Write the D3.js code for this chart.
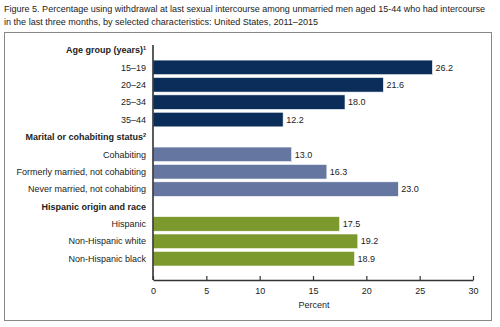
<!DOCTYPE html>
<html>
<head>
<meta charset="utf-8">
<script src="https://cdn.jsdelivr.net/npm/d3@7"></script>
<style>
  body { margin: 0; background: #fff; }
  svg { font-family: "Liberation Sans", Arial, Helvetica, sans-serif; }
</style>
</head>
<body>
<svg id="chart" width="500" height="327"></svg>
<script>
// rows from top to bottom; headers have no value
var rowLabels = ['Age group (years)', '15–19', '20–24', '25–34', '35–44',
  'Marital or cohabiting status', 'Cohabiting', 'Formerly married, not cohabiting', 'Never married, not cohabiting',
  'Hispanic origin and race', 'Hispanic', 'Non-Hispanic white', 'Non-Hispanic black'];
var rowGroups = ['age', 'age', 'age', 'age', 'age',
  'marital', 'marital', 'marital', 'marital',
  'race', 'race', 'race', 'race'];
var isHeader = [true, false, false, false, false, true, false, false, false, true, false, false, false];
var headerNotes = ['1', '', '', '', '', '2', '', '', '', '', '', '', ''];
var percents = [null, 26.2, 21.6, 18.0, 12.2, null, 13.0, 16.3, 23.0, null, 17.5, 19.2, 18.9];
var xTicks = [0, 5, 10, 15, 20, 25, 30];
var groupColors = { age: '#0b2d5a', marital: '#6577a0', race: '#7c992e' };

var rows = rowLabels.map((d, i) => ({
  label: d, group: rowGroups[i], header: isHeader[i], note: headerNotes[i], value: percents[i]
}));

var svg = d3.select('#chart');
var fs = 9;

// title, two lines across the frame width
var title = svg.append('text').attr('x', 4).attr('y', 12).attr('font-size', 9).attr('fill', '#222');
title.append('tspan').attr('x', 4).attr('textLength', 481).attr('lengthAdjust', 'spacingAndGlyphs')
  .text('Figure 5. Percentage using withdrawal at last sexual intercourse among unmarried men aged 15-44 who had intercourse');
title.append('tspan').attr('x', 4).attr('dy', 13).attr('textLength', 314).attr('lengthAdjust', 'spacingAndGlyphs')
  .text('in the last three months, by selected characteristics: United States, 2011–2015');

// frame
svg.append('rect').attr('x', 4.5).attr('y', 32.5).attr('width', 487).attr('height', 288)
  .attr('fill', 'none').attr('stroke', '#888').attr('stroke-width', 1);

var x = d3.scaleLinear().domain([0, 30]).range([153, 473]);
var y = d3.scaleBand().domain(d3.range(rows.length)).range([41.3, 267.4]).paddingInner(0.16).paddingOuter(0.08);
var axisY = 280;

// bars
svg.selectAll('rect.bar')
  .data(rows.filter(d => !d.header)).enter().append('rect')
  .attr('class', 'bar')
  .attr('x', x(0))
  .attr('y', d => y(rows.indexOf(d)))
  .attr('width', d => x(d.value) - x(0))
  .attr('height', y.bandwidth())
  .attr('fill', d => groupColors[d.group])
  .attr('stroke', '#fff').attr('stroke-width', 0.6);

// value labels
svg.selectAll('text.val')
  .data(rows.filter(d => !d.header)).enter().append('text')
  .attr('class', 'val')
  .attr('x', d => x(d.value) + 3)
  .attr('y', d => y(rows.indexOf(d)) + y.bandwidth() / 2)
  .attr('dy', '0.35em')
  .attr('font-size', fs).attr('fill', '#222')
  .text(d => d.value.toFixed(1));

// row labels, headers in bold with footnote markers
var labels = svg.selectAll('text.row')
  .data(rows).enter().append('text')
  .attr('class', 'row')
  .attr('x', 146)
  .attr('y', (d, i) => y(i) + y.bandwidth() / 2)
  .attr('dy', '0.35em')
  .attr('text-anchor', 'end')
  .attr('font-size', fs).attr('fill', '#222')
  .attr('font-weight', d => d.header ? 'bold' : 'normal');
labels.append('tspan').text(d => d.label);
labels.filter(d => d.note).append('tspan')
  .attr('font-size', 5.5).attr('dy', '-0.6em').text(d => d.note);

// x axis with ticks pointing up into the plot
var xAxis = svg.append('g').attr('transform', 'translate(0,' + axisY + ')')
  .call(d3.axisBottom(x).tickValues(xTicks).tickSizeInner(-4).tickSizeOuter(0).tickPadding(8));
xAxis.select('.domain').attr('stroke', '#333').attr('stroke-width', 1.3);
xAxis.selectAll('.tick line').attr('stroke', '#333').attr('stroke-width', 1.2);
xAxis.selectAll('.tick text').attr('font-size', fs).attr('fill', '#222')
  .attr('font-family', '"Liberation Sans", Arial, sans-serif');

// y axis line
svg.append('line').attr('x1', x(0)).attr('x2', x(0)).attr('y1', 45).attr('y2', axisY)
  .attr('stroke', '#333').attr('stroke-width', 1.6);

svg.append('text').attr('x', (x(0) + x(30)) / 2 + 1).attr('y', 308)
  .attr('text-anchor', 'middle').attr('font-size', fs).attr('fill', '#222').text('Percent');
</script>
</body>
</html>
